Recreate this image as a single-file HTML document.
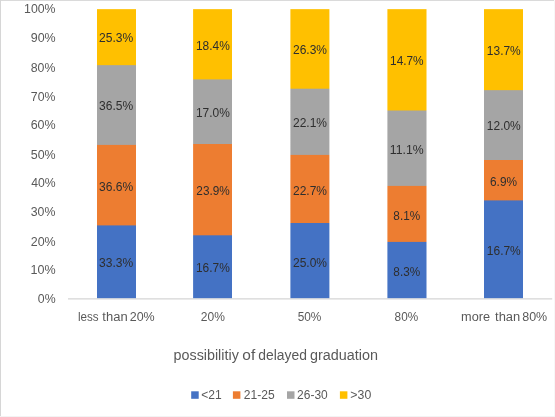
<!DOCTYPE html><html><head><meta charset="utf-8"><style>html,body{margin:0;padding:0;background:#fff;}svg{display:block;}text{font-family:"Liberation Sans",sans-serif;}</style></head><body>
<svg style="will-change:transform" width="555" height="417" viewBox="0 0 555 417">
<rect x="0" y="0" width="555" height="417" fill="#fff"/>
<rect x="68" y="298.1" width="484.2" height="1.5" fill="#DCDCDC"/>
<defs>
<linearGradient id="g0" gradientUnits="userSpaceOnUse" x1="0" y1="9.15" x2="0" y2="298.15"><stop offset="0.00000" stop-color="#FFC000"/><stop offset="0.19204" stop-color="#FFC000"/><stop offset="0.19550" stop-color="#A5A5A5"/><stop offset="0.46799" stop-color="#A5A5A5"/><stop offset="0.47145" stop-color="#ED7D31"/><stop offset="0.74654" stop-color="#ED7D31"/><stop offset="0.75000" stop-color="#4472C4"/><stop offset="1.00000" stop-color="#4472C4"/></linearGradient>
<linearGradient id="g1" gradientUnits="userSpaceOnUse" x1="0" y1="9.15" x2="0" y2="298.15"><stop offset="0.00000" stop-color="#FFC000"/><stop offset="0.24135" stop-color="#FFC000"/><stop offset="0.24481" stop-color="#A5A5A5"/><stop offset="0.46488" stop-color="#A5A5A5"/><stop offset="0.46834" stop-color="#ED7D31"/><stop offset="0.78080" stop-color="#ED7D31"/><stop offset="0.78426" stop-color="#4472C4"/><stop offset="1.00000" stop-color="#4472C4"/></linearGradient>
<linearGradient id="g2" gradientUnits="userSpaceOnUse" x1="0" y1="9.15" x2="0" y2="298.15"><stop offset="0.00000" stop-color="#FFC000"/><stop offset="0.27353" stop-color="#FFC000"/><stop offset="0.27699" stop-color="#A5A5A5"/><stop offset="0.50260" stop-color="#A5A5A5"/><stop offset="0.50606" stop-color="#ED7D31"/><stop offset="0.73824" stop-color="#ED7D31"/><stop offset="0.74170" stop-color="#4472C4"/><stop offset="1.00000" stop-color="#4472C4"/></linearGradient>
<linearGradient id="g3" gradientUnits="userSpaceOnUse" x1="0" y1="9.15" x2="0" y2="298.15"><stop offset="0.00000" stop-color="#FFC000"/><stop offset="0.34896" stop-color="#FFC000"/><stop offset="0.35242" stop-color="#A5A5A5"/><stop offset="0.60986" stop-color="#A5A5A5"/><stop offset="0.61332" stop-color="#ED7D31"/><stop offset="0.80363" stop-color="#ED7D31"/><stop offset="0.80709" stop-color="#4472C4"/><stop offset="1.00000" stop-color="#4472C4"/></linearGradient>
<linearGradient id="g4" gradientUnits="userSpaceOnUse" x1="0" y1="9.15" x2="0" y2="298.15"><stop offset="0.00000" stop-color="#FFC000"/><stop offset="0.27855" stop-color="#FFC000"/><stop offset="0.28201" stop-color="#A5A5A5"/><stop offset="0.52024" stop-color="#A5A5A5"/><stop offset="0.52370" stop-color="#ED7D31"/><stop offset="0.66003" stop-color="#ED7D31"/><stop offset="0.66349" stop-color="#4472C4"/><stop offset="1.00000" stop-color="#4472C4"/></linearGradient>
</defs>
<rect x="97" y="9.15" width="39.00" height="289.00" fill="url(#g0)"/>
<rect x="193.1" y="9.15" width="38.90" height="289.00" fill="url(#g1)"/>
<rect x="290.4" y="9.15" width="39.00" height="289.00" fill="url(#g2)"/>
<rect x="387.4" y="9.15" width="39.10" height="289.00" fill="url(#g3)"/>
<rect x="484" y="9.15" width="39.00" height="289.00" fill="url(#g4)"/>
<rect x="191.2" y="391.3" width="7.5" height="7.5" fill="#4472C4"/>
<rect x="232.9" y="391.3" width="7.5" height="7.5" fill="#ED7D31"/>
<rect x="287.0" y="391.3" width="7.5" height="7.5" fill="#A5A5A5"/>
<rect x="339.9" y="391.3" width="7.5" height="7.5" fill="#FFC000"/>
<rect x="0" y="0" width="555" height="1" fill="#DADADA"/>
<rect x="0" y="0" width="1" height="417" fill="#D6D6D6"/>
<rect x="554" y="0" width="1" height="417" fill="#F7F7F7"/>
<rect x="0" y="416" width="555" height="1" fill="#F3F3F3"/>
<text x="24.11" y="13" font-size="12" fill="#595959" textLength="31.46" lengthAdjust="spacingAndGlyphs">100%</text>
<text x="30.73" y="42" font-size="12" fill="#595959" textLength="24.97" lengthAdjust="spacingAndGlyphs">90%</text>
<text x="30.77" y="72" font-size="12" fill="#595959" textLength="24.68" lengthAdjust="spacingAndGlyphs">80%</text>
<text x="30.82" y="101" font-size="12" fill="#595959" textLength="24.59" lengthAdjust="spacingAndGlyphs">70%</text>
<text x="30.68" y="129" font-size="12" fill="#595959" textLength="25.03" lengthAdjust="spacingAndGlyphs">60%</text>
<text x="30.78" y="159" font-size="12" fill="#595959" textLength="24.89" lengthAdjust="spacingAndGlyphs">50%</text>
<text x="31.17" y="187" font-size="12" fill="#595959" textLength="24.43" lengthAdjust="spacingAndGlyphs">40%</text>
<text x="30.75" y="216" font-size="12" fill="#595959" textLength="24.67" lengthAdjust="spacingAndGlyphs">30%</text>
<text x="30.76" y="246" font-size="12" fill="#595959" textLength="24.94" lengthAdjust="spacingAndGlyphs">20%</text>
<text x="30.53" y="274" font-size="12" fill="#595959" textLength="25.12" lengthAdjust="spacingAndGlyphs">10%</text>
<text x="37.84" y="303" font-size="12" fill="#595959" textLength="17.76" lengthAdjust="spacingAndGlyphs">0%</text>
<text x="99.02" y="42" font-size="12" fill="#2E2E2E" textLength="34.21" lengthAdjust="spacingAndGlyphs">25.3%</text>
<text x="99.04" y="110" font-size="12" fill="#2E2E2E" textLength="34.14" lengthAdjust="spacingAndGlyphs">36.5%</text>
<text x="99.04" y="191" font-size="12" fill="#2E2E2E" textLength="34.14" lengthAdjust="spacingAndGlyphs">36.6%</text>
<text x="99.04" y="267" font-size="12" fill="#2E2E2E" textLength="34.14" lengthAdjust="spacingAndGlyphs">33.3%</text>
<text x="195.98" y="50" font-size="12" fill="#2E2E2E" textLength="33.88" lengthAdjust="spacingAndGlyphs">18.4%</text>
<text x="195.98" y="117" font-size="12" fill="#2E2E2E" textLength="33.88" lengthAdjust="spacingAndGlyphs">17.0%</text>
<text x="196.33" y="195" font-size="12" fill="#2E2E2E" textLength="33.40" lengthAdjust="spacingAndGlyphs">23.9%</text>
<text x="195.98" y="272" font-size="12" fill="#2E2E2E" textLength="33.88" lengthAdjust="spacingAndGlyphs">16.7%</text>
<text x="293.04" y="54" font-size="12" fill="#2E2E2E" textLength="34.01" lengthAdjust="spacingAndGlyphs">26.3%</text>
<text x="293.04" y="127" font-size="12" fill="#2E2E2E" textLength="34.01" lengthAdjust="spacingAndGlyphs">22.1%</text>
<text x="293.04" y="195" font-size="12" fill="#2E2E2E" textLength="34.01" lengthAdjust="spacingAndGlyphs">22.7%</text>
<text x="293.04" y="267" font-size="12" fill="#2E2E2E" textLength="34.01" lengthAdjust="spacingAndGlyphs">25.0%</text>
<text x="390.07" y="65" font-size="12" fill="#2E2E2E" textLength="33.56" lengthAdjust="spacingAndGlyphs">14.7%</text>
<text x="389.87" y="154" font-size="12" fill="#2E2E2E" textLength="33.79" lengthAdjust="spacingAndGlyphs">11.1%</text>
<text x="393.35" y="220" font-size="12" fill="#2E2E2E" textLength="26.78" lengthAdjust="spacingAndGlyphs">8.1%</text>
<text x="393.35" y="276" font-size="12" fill="#2E2E2E" textLength="26.78" lengthAdjust="spacingAndGlyphs">8.3%</text>
<text x="486.84" y="55" font-size="12" fill="#2E2E2E" textLength="33.92" lengthAdjust="spacingAndGlyphs">13.7%</text>
<text x="486.84" y="130" font-size="12" fill="#2E2E2E" textLength="33.92" lengthAdjust="spacingAndGlyphs">12.0%</text>
<text x="490.04" y="186" font-size="12" fill="#2E2E2E" textLength="26.98" lengthAdjust="spacingAndGlyphs">6.9%</text>
<text x="486.84" y="255" font-size="12" fill="#2E2E2E" textLength="33.92" lengthAdjust="spacingAndGlyphs">16.7%</text>
<text x="77.95" y="321" font-size="12" fill="#595959" textLength="20.70" lengthAdjust="spacingAndGlyphs">less</text>
<text x="102.33" y="321" font-size="12" fill="#595959" textLength="25.29" lengthAdjust="spacingAndGlyphs">than</text>
<text x="129.73" y="321" font-size="12" fill="#595959" textLength="25.00" lengthAdjust="spacingAndGlyphs">20%</text>
<text x="200.87" y="321" font-size="12" fill="#595959" textLength="24.08" lengthAdjust="spacingAndGlyphs">20%</text>
<text x="297.70" y="321" font-size="12" fill="#595959" textLength="23.71" lengthAdjust="spacingAndGlyphs">50%</text>
<text x="394.61" y="321" font-size="12" fill="#595959" textLength="23.52" lengthAdjust="spacingAndGlyphs">80%</text>
<text x="461.11" y="321" font-size="12" fill="#595959" textLength="29.03" lengthAdjust="spacingAndGlyphs">more</text>
<text x="495.08" y="321" font-size="12" fill="#595959" textLength="25.17" lengthAdjust="spacingAndGlyphs">than</text>
<text x="522.22" y="321" font-size="12" fill="#595959" textLength="24.99" lengthAdjust="spacingAndGlyphs">80%</text>
<text x="173.55" y="360" font-size="14" fill="#595959" textLength="65.26" lengthAdjust="spacingAndGlyphs">possibilitiy</text>
<text x="242.35" y="360" font-size="14" fill="#595959" textLength="12.89" lengthAdjust="spacingAndGlyphs">of</text>
<text x="258.29" y="360" font-size="14" fill="#595959" textLength="48.62" lengthAdjust="spacingAndGlyphs">delayed</text>
<text x="309.95" y="360" font-size="14" fill="#595959" textLength="67.95" lengthAdjust="spacingAndGlyphs">graduation</text>
<text x="201.22" y="399" font-size="12" fill="#595959" textLength="20.44" lengthAdjust="spacingAndGlyphs">&lt;21</text>
<text x="243.82" y="399" font-size="12" fill="#595959" textLength="30.86" lengthAdjust="spacingAndGlyphs">21-25</text>
<text x="297.08" y="399" font-size="12" fill="#595959" textLength="30.64" lengthAdjust="spacingAndGlyphs">26-30</text>
<text x="350.36" y="399" font-size="12" fill="#595959" textLength="20.86" lengthAdjust="spacingAndGlyphs">&gt;30</text>
</svg></body></html>
